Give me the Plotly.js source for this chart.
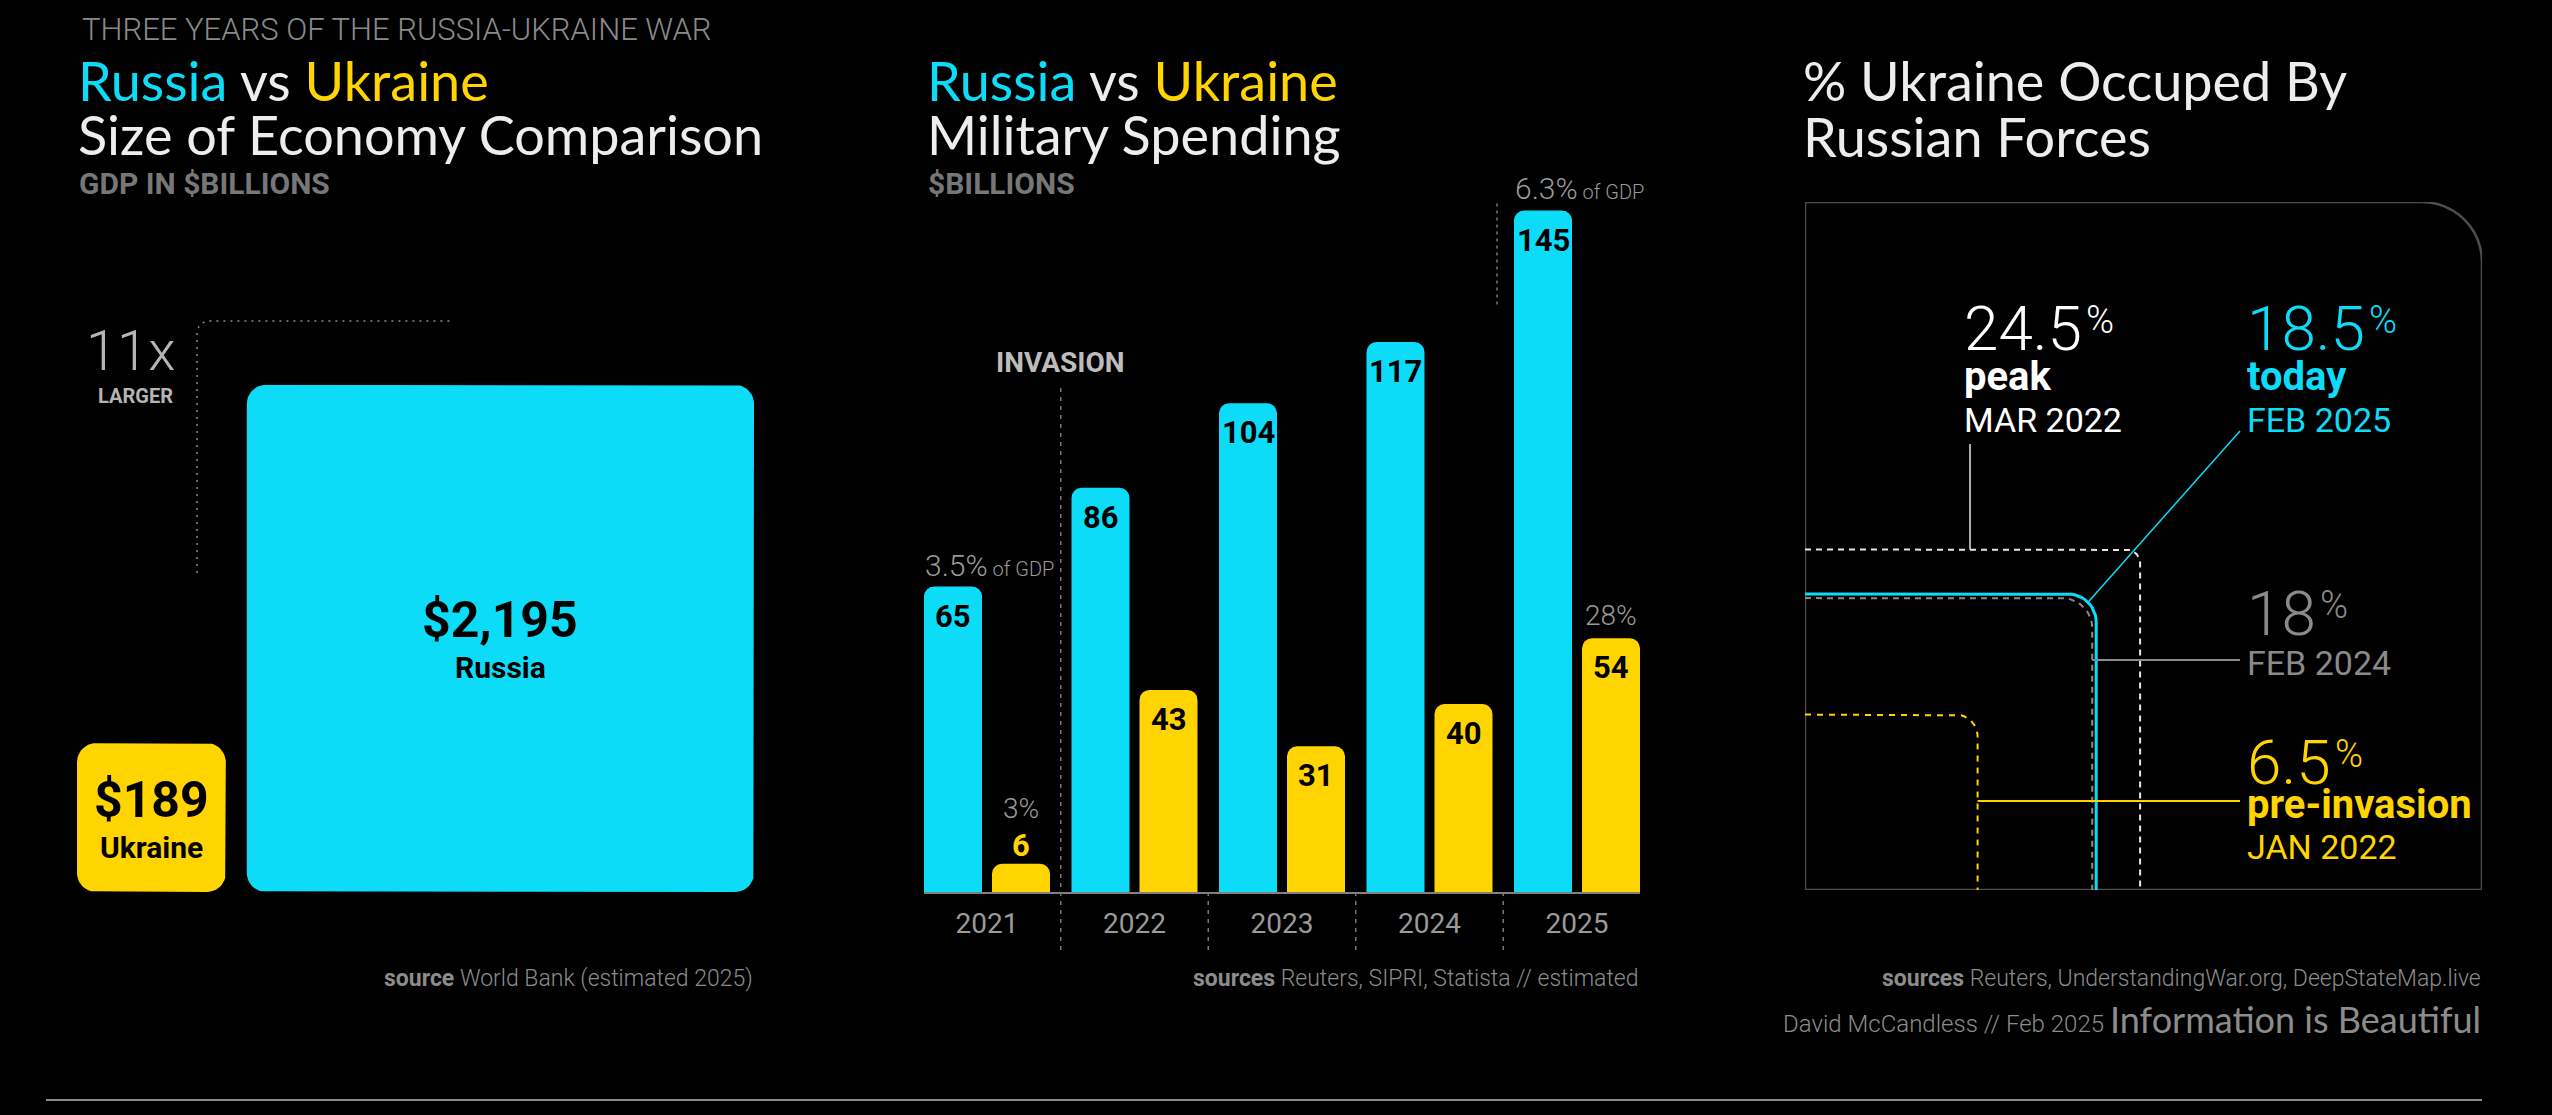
<!DOCTYPE html>
<html>
<head>
<meta charset="utf-8">
<script src="https://cdn.plot.ly/plotly-3.0.1.min.js"></script>
<style>
  html, body { margin: 0; padding: 0; background: #000; overflow: hidden; }
  #chart { width: 2552px; height: 1115px; }
</style>
</head>
<body>
<div id="chart"></div>
<script>
// ---------------- data ----------------
// GDP, $ billions (2025 estimate)
const gdpCountries = ['Ukraine', 'Russia'];
const gdpValues = [189, 2195];

// Military spending, $ billions
const years = [2021, 2022, 2023, 2024, 2025];
const russiaSpend = [65, 86, 104, 117, 145];
const ukraineSpend = [6, 43, 31, 40, 54];
// spending as share of GDP
const russiaShareYears = [2021, 2025];
const russiaShareText = ['3.5%', '6.3%'];
const ukraineShareYears = [2021, 2025];
const ukraineShareText = ['3%', '28%'];

// Share of Ukraine occupied by Russian forces, %
const occupiedPct = [24.5, 18.5, 18, 6.5];
const occupiedTag = ['peak', 'today', '', 'pre-invasion'];
const occupiedDate = ['MAR 2022', 'FEB 2025', 'FEB 2024', 'JAN 2022'];

// ---------------- styling ----------------
const W = 2552, H = 1115;
const CYAN = '#0DDCF8', YELLOW = '#FFD400', WHITE = '#EDEDED';
const TITLE_FONT = 'Lato';
const LABEL_FONT = 'Roboto';
const X = p => p / W;
const Y = p => 1 - p / H;

const ctx = document.createElement('canvas').getContext('2d');
function metrics(text, size, family, weight) {
  ctx.font = `${weight} ${size}px "${family}"`;
  const m = ctx.measureText(text);
  return { w: m.width, asc: m.fontBoundingBoxAscent || size * 0.93 };
}
const annotations = [];
// one line of text placed by its x (left/centre/right) and its baseline y, in pixels
function T(x, base, text, o) {
  const family = o.family || LABEL_FONT, weight = o.weight || 400;
  const m = metrics(text.replace(/<[^>]+>/g, ''), o.size, family, weight);
  annotations.push({
    xref: 'paper', yref: 'paper', x: X(x), y: Y(base - m.asc),
    xanchor: o.anchor || 'left', yanchor: 'top', showarrow: false, borderpad: 0,
    text, font: { family, size: o.size, color: o.color, weight }
  });
  return m;
}
const shapes = [];

function arc(cx, cy, rx, ry, a0, a1, n = 12) {
  const p = [];
  for (let i = 0; i <= n; i++) {
    const a = a0 + (a1 - a0) * i / n;
    p.push([cx + rx * Math.cos(a), cy + ry * Math.sin(a)]);
  }
  return p;
}
function roundedRect(x0, y0, x1, y1, rx, ry) {
  const p = [
    ...arc(x0 + rx, y1 - ry, rx, ry, Math.PI, Math.PI / 2),
    ...arc(x1 - rx, y1 - ry, rx, ry, Math.PI / 2, 0),
    ...arc(x1 - rx, y0 + ry, rx, ry, 0, -Math.PI / 2),
    ...arc(x0 + rx, y0 + ry, rx, ry, -Math.PI / 2, -Math.PI)
  ];
  p.push(p[0]);
  return { x: p.map(q => q[0]), y: p.map(q => q[1]) };
}

const traces = [];
const vsTitle = `<span style="color:${CYAN}">Russia</span> vs <span style="color:${YELLOW}">Ukraine</span>`;
const title = { size: 54, family: TITLE_FONT, color: WHITE };

// ================= panel 1: GDP squares =================
const gdpSide = gdpValues.map(Math.sqrt);           // area ∝ GDP
const GDP_GAP = 1.94;                                // space between squares (side units)
const gdpSpan = gdpSide[0] + GDP_GAP + gdpSide[1];
const P1 = { left: 77, right: 754, bottom: 892 };
const u1 = (P1.right - P1.left) / gdpSpan;
P1.top = P1.bottom - Math.max(...gdpSide) * u1;
const gdpX0 = [0, gdpSide[0] + GDP_GAP];
const gdpColors = [YELLOW, CYAN];
gdpValues.forEach((v, i) => {
  const s = gdpSide[i], r = 19 / u1;
  const rr = roundedRect(gdpX0[i], 0, gdpX0[i] + s, s, r, r);
  traces.push({
    type: 'scatter', mode: 'lines', x: rr.x, y: rr.y, xaxis: 'x', yaxis: 'y',
    fill: 'toself', fillcolor: gdpColors[i], line: { width: 0 }, hoverinfo: 'skip',
    name: gdpCountries[i]
  });
  const cx = P1.left + (gdpX0[i] + s / 2) * u1;
  const cy = P1.bottom - s / 2 * u1;
  T(cx, cy - 2, '$' + v.toLocaleString('en-US'), { size: 50, weight: 700, color: '#000', anchor: 'center' });
  T(cx, cy + 39, gdpCountries[i], { size: 30, weight: 700, color: '#000', anchor: 'center' });
});

T(81, 39, 'THREE YEARS OF THE RUSSIA-UKRAINE WAR', { size: 31, weight: 300, color: '#8a8a8a' });
T(77, 100, vsTitle, title);
T(77, 154, 'Size of Economy Comparison', title);
T(78, 193, 'GDP IN $BILLIONS', { size: 30, weight: 700, color: '#777' });
T(176, 369, Math.floor(gdpValues[1] / gdpValues[0]) + 'x', { size: 56, weight: 300, color: '#b5b5b5', anchor: 'right' });
T(174, 402, 'LARGER', { size: 20, weight: 700, color: '#b5b5b5', anchor: 'right' });
T(754, 985, '<b>source</b> World Bank (estimated 2025)', { size: 23, weight: 300, color: '#8c8c8c', anchor: 'right' });

shapes.push({
  type: 'path', xref: 'paper', yref: 'paper',
  path: `M ${X(197)},${Y(573)} L ${X(197)},${Y(335)} Q ${X(197)},${Y(321)} ${X(211)},${Y(321)} L ${X(450)},${Y(321)}`,
  line: { color: '#8a8a8a', width: 1.5, dash: '2px,5px' }
});

// ================= panel 2: military spending bars =================
const P2 = { left: 924, right: 1640, bottom: 892 };
const BAR_W = 58, BAR_GAP = 10, SPEND_MAX = 160, SPEND_PX = 4.70;
const half = BAR_W + BAR_GAP / 2;
const C = (P2.right - P2.left - 2 * half) / (years[years.length - 1] - years[0]);
const xr2 = [years[0] - half / C, years[years.length - 1] + half / C];
const x2px = v => P2.left + (v - xr2[0]) * C;
const y2px = v => P2.bottom - v * SPEND_PX;
const offR = -half / C, offU = (BAR_GAP / 2) / C, wBar = BAR_W / C;

traces.push({
  type: 'bar', name: 'Russia', x: years, y: russiaSpend, xaxis: 'x2', yaxis: 'y2',
  offset: offR, width: wBar, marker: { color: CYAN, cornerradius: 10 }, hoverinfo: 'skip'
});
traces.push({
  type: 'bar', name: 'Ukraine', x: years, y: ukraineSpend, xaxis: 'x2', yaxis: 'y2',
  offset: offU, width: wBar, marker: { color: YELLOW, cornerradius: 10 }, hoverinfo: 'skip'
});

years.forEach((yr, i) => {
  const rc = x2px(yr + offR + wBar / 2);
  T(rc, y2px(russiaSpend[i]) + 39, String(russiaSpend[i]), { size: 31, weight: 700, color: '#000', anchor: 'center' });
  const uc = x2px(yr + offU + wBar / 2);
  const uTop = y2px(ukraineSpend[i]);
  if (ukraineSpend[i] * SPEND_PX > 50) {
    T(uc, uTop + 39, String(ukraineSpend[i]), { size: 31, weight: 700, color: '#000', anchor: 'center' });
  } else {
    T(uc, uTop - 9, String(ukraineSpend[i]), { size: 31, weight: 700, color: YELLOW, anchor: 'center' });
  }
});
russiaShareYears.forEach((yr, k) => {
  const i = years.indexOf(yr);
  T(x2px(yr + offR), y2px(russiaSpend[i]) - 12,
    `${russiaShareText[k]}<span style="font-size:20px"> of GDP</span>`,
    { size: 30, weight: 300, color: '#9a9a9a' });
});
ukraineShareYears.forEach((yr, k) => {
  const i = years.indexOf(yr);
  const outside = ukraineSpend[i] * SPEND_PX <= 50;
  T(x2px(yr + offU + wBar / 2), y2px(ukraineSpend[i]) - (outside ? 47 : 14),
    ukraineShareText[k], { size: 28, weight: 300, color: '#9a9a9a', anchor: 'center' });
});

T(926, 100, vsTitle, title);
T(926, 154, 'Military Spending', title);
T(927, 193, '$BILLIONS', { size: 30, weight: 700, color: '#777' });
T(x2px((years[0] + years[1]) / 2), 371, 'INVASION', { size: 28, weight: 700, color: '#bdbdbd', anchor: 'center' });
T(1639, 985, '<b>sources</b> Reuters, SIPRI, Statista // estimated', { size: 23, weight: 300, color: '#8c8c8c', anchor: 'right' });

// year dividers and the invasion marker
years.slice(0, -1).forEach((yr, i) => {
  shapes.push({
    type: 'line', xref: 'x2', yref: 'paper',
    x0: (yr + years[i + 1]) / 2, x1: (yr + years[i + 1]) / 2,
    y0: Y(950), y1: i === 0 ? Y(383) : Y(893),
    line: { color: '#777', width: 1.5, dash: '4px,5px' }
  });
});
{
  const last = years.length - 1;
  const xl = years[last] + offR - 17 / C;
  shapes.push({
    type: 'line', xref: 'x2', yref: 'y2', x0: xl, x1: xl,
    y0: russiaSpend[last] + 7 / SPEND_PX, y1: russiaSpend[last] - 96 / SPEND_PX,
    line: { color: '#777', width: 1.5, dash: '3px,4px' }
  });
}

// ================= panel 3: occupied area =================
const P3 = { left: 1805, right: 2482, top: 202, bottom: 890 };
const w3 = P3.right - P3.left, h3 = P3.bottom - P3.top;
const occStyle = [
  { color: '#e6e6e6', text: '#ffffff', width: 2, dash: '6px,5px', r: 14 },
  { color: CYAN, text: CYAN, width: 3, dash: 'solid', r: 28 },
  { color: '#8a8a8a', text: '#8a8a8a', width: 2, dash: '6px,5px', r: 30 },
  { color: YELLOW, text: YELLOW, width: 2, dash: '6px,6px', r: 22 }
];
const occSide = occupiedPct.map(v => Math.sqrt(v / 100));   // area ∝ share

// whole country frame (100%)
{
  const rx = 60 / w3, ry = 60 / h3;
  const p = [[0, 0], [0, 1], ...arc(1 - rx, 1 - ry, rx, ry, Math.PI / 2, 0), [1, 0], [0, 0]];
  traces.push({
    type: 'scatter', mode: 'lines', x: p.map(q => q[0]), y: p.map(q => q[1]),
    xaxis: 'x3', yaxis: 'y3', line: { color: '#4d4d4d', width: 2.5 }, hoverinfo: 'skip', name: 'Ukraine'
  });
}
[0, 2, 3, 1].forEach(i => {
  const s = occSide[i], st = occStyle[i];
  const rx = st.r / w3, ry = st.r / h3;
  const p = [[0, s], ...arc(s - rx, s - ry, rx, ry, Math.PI / 2, 0), [s, 0]];
  traces.push({
    type: 'scatter', mode: 'lines', x: p.map(q => q[0]), y: p.map(q => q[1]),
    xaxis: 'x3', yaxis: 'y3', line: { color: st.color, width: st.width, dash: st.dash },
    hoverinfo: 'skip', name: occupiedDate[i]
  });
});

// leaders from labels to lines
const LBL_A = 1963, LBL_B = 2246, LEAD_END = 2240;
const y3 = p => (P3.bottom - p) / h3, x3 = p => (p - P3.left) / w3;
shapes.push({
  type: 'line', xref: 'x3', yref: 'y3', x0: x3(1970), x1: x3(1970),
  y0: y3(444), y1: occSide[0], line: { color: '#e6e6e6', width: 1.5 }
});
{
  const s = occSide[1], rx = occStyle[1].r / w3, ry = occStyle[1].r / h3;
  shapes.push({
    type: 'line', xref: 'x3', yref: 'y3',
    x0: s - rx + rx * Math.SQRT1_2, y0: s - ry + ry * Math.SQRT1_2,
    x1: x3(LEAD_END), y1: y3(431), line: { color: CYAN, width: 1.5 }
  });
}
shapes.push({
  type: 'line', xref: 'x3', yref: 'y3', x0: occSide[2], x1: x3(LEAD_END),
  y0: y3(660), y1: y3(660), line: { color: '#8a8a8a', width: 2 }
});
shapes.push({
  type: 'line', xref: 'x3', yref: 'y3', x0: occSide[3], x1: x3(LEAD_END),
  y0: y3(801), y1: y3(801), line: { color: YELLOW, width: 2 }
});

// value (with raised % sign), tag and date for each outline
const occText = [
  { x: LBL_A, num: 349, tag: 389, date: 431 },
  { x: LBL_B, num: 349, tag: 389, date: 431 },
  { x: LBL_B, num: 634, tag: null, date: 674 },
  { x: LBL_B, num: 783, tag: 817, date: 858 }
];
occText.forEach((p, i) => {
  const col = occStyle[i].text;
  const m = T(p.x, p.num, String(occupiedPct[i]), { size: 62, weight: 300, color: col });
  T(p.x + m.w + 4, p.num - 17, '%', { size: 38, weight: 300, color: col });
  if (p.tag) T(p.x, p.tag, occupiedTag[i], { size: 40, weight: 700, color: col });
  T(p.x, p.date, occupiedDate[i], { size: 34, weight: 400, color: col });
});

T(1802, 100, '% Ukraine Occuped By', title);
T(1802, 156, 'Russian Forces', title);
T(2482, 985, '<b>sources</b> Reuters, UnderstandingWar.org, DeepStateMap.live', { size: 23, weight: 300, color: '#8c8c8c', anchor: 'right' });
T(2105, 1031, 'David McCandless // Feb 2025', { size: 24, weight: 300, color: '#8c8c8c', anchor: 'right' });
T(2482, 1032, 'Information is Beautiful', { size: 36, family: TITLE_FONT, color: '#8c8c8c', anchor: 'right' });

shapes.push({
  type: 'line', xref: 'paper', yref: 'paper', x0: X(46), x1: X(2482), y0: Y(1100), y1: Y(1100),
  line: { color: '#8a8a8a', width: 2 }
});

// ---------------- layout ----------------
const hidden = { visible: false, fixedrange: true, showgrid: false, zeroline: false };
const layout = {
  width: W, height: H,
  margin: { l: 0, r: 0, t: 0, b: 0, pad: 0 },
  paper_bgcolor: '#000', plot_bgcolor: 'rgba(0,0,0,0)',
  showlegend: false, hovermode: false, barmode: 'overlay',
  xaxis: { ...hidden, domain: [X(P1.left), X(P1.right)], range: [0, gdpSpan], anchor: 'y' },
  yaxis: { ...hidden, domain: [Y(P1.bottom), Y(P1.top)], range: [0, Math.max(...gdpSide)], anchor: 'x' },
  xaxis2: {
    domain: [X(P2.left), X(P2.right)], range: xr2, anchor: 'y2', fixedrange: true,
    showline: true, linecolor: '#808080', linewidth: 2, showgrid: false, zeroline: false,
    ticks: '', tickvals: years, ticktext: years.map(String), ticklabelstandoff: 5,
    tickfont: { family: LABEL_FONT, size: 28, color: '#9a9a9a' }
  },
  yaxis2: { ...hidden, domain: [Y(P2.bottom), Y(P2.bottom - SPEND_MAX * SPEND_PX)], range: [0, SPEND_MAX], anchor: 'x2' },
  xaxis3: { ...hidden, domain: [X(P3.left), X(P3.right)], range: [0, 1], anchor: 'y3' },
  yaxis3: { ...hidden, domain: [Y(P3.bottom), Y(P3.top)], range: [0, 1], anchor: 'x3' },
  annotations, shapes
};

Plotly.newPlot('chart', traces, layout, { staticPlot: true, displayModeBar: false });
</script>
</body>
</html>
